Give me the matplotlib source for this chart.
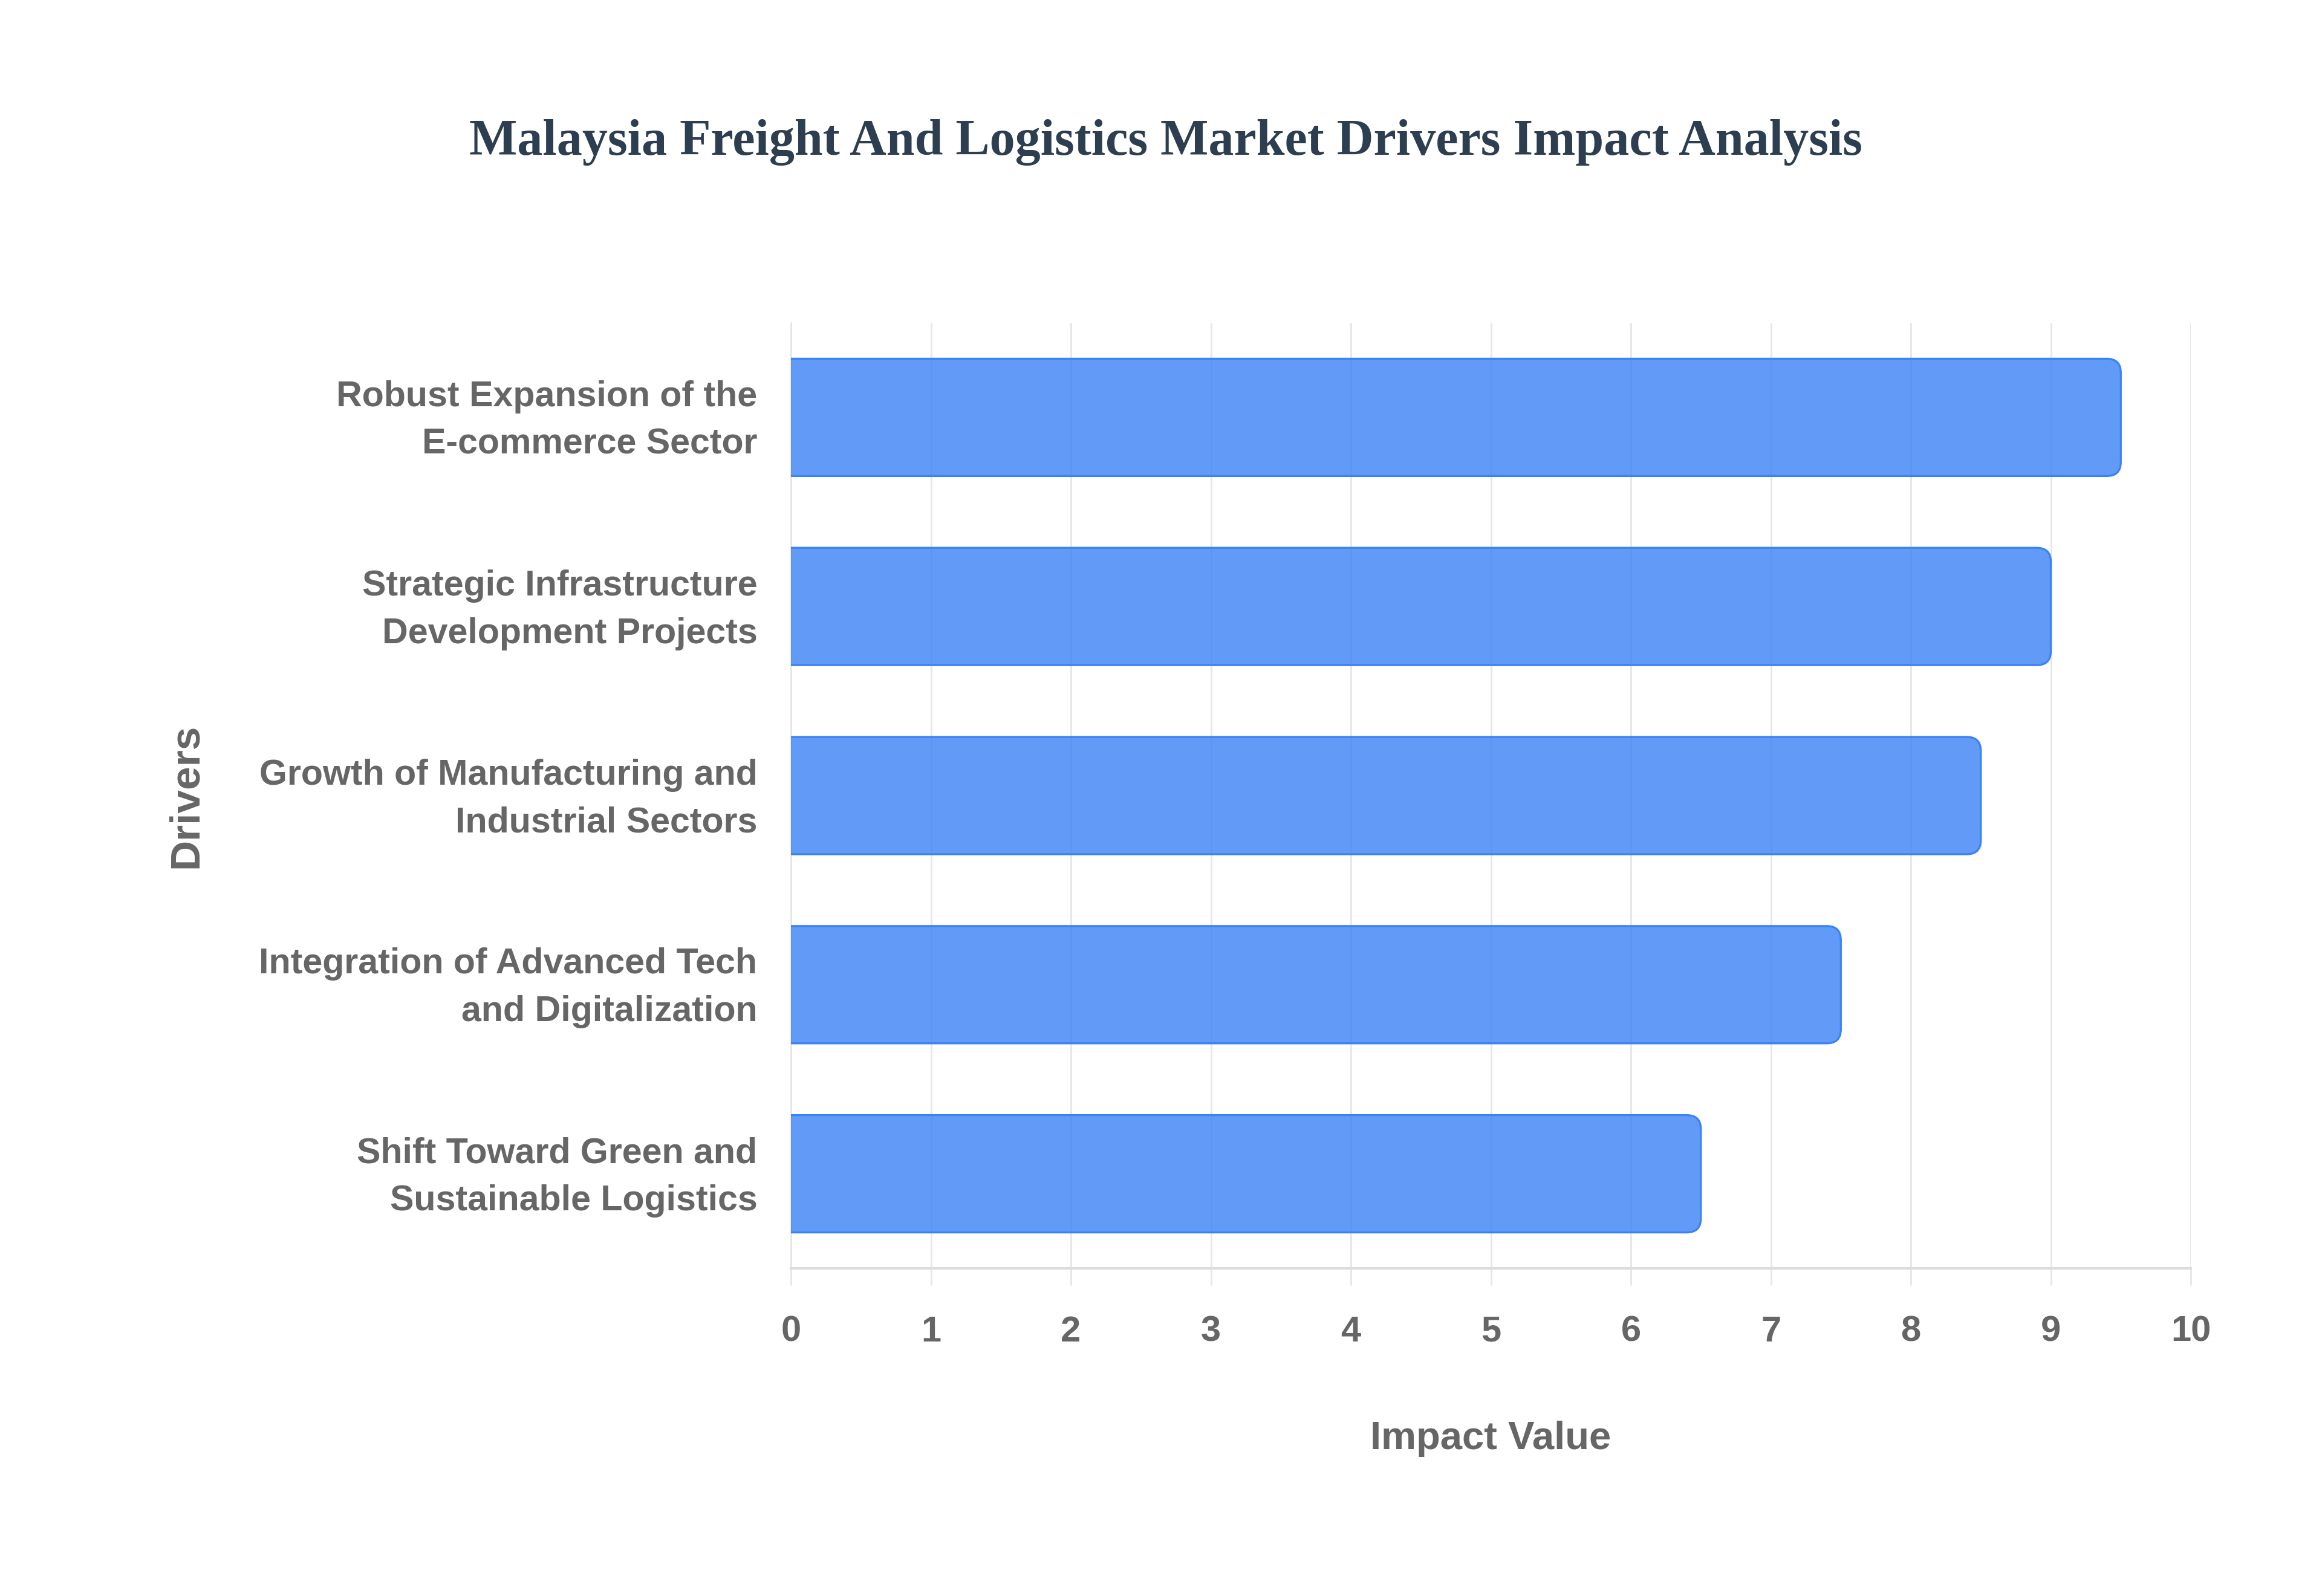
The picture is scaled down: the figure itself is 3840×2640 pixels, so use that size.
import matplotlib
matplotlib.use("Agg")
import matplotlib.pyplot as plt
import matplotlib.transforms as mtransforms
from matplotlib.patches import FancyBboxPatch

# data
drivers = [
    "Robust Expansion of the\nE-commerce Sector",
    "Strategic Infrastructure\nDevelopment Projects",
    "Growth of Manufacturing and\nIndustrial Sectors",
    "Integration of Advanced Tech\nand Digitalization",
    "Shift Toward Green and\nSustainable Logistics",
]
impact = [9.5, 9.0, 8.5, 7.5, 6.5]
x_ticks = [0, 1, 2, 3, 4, 5, 6, 7, 8, 9, 10]

W, H = 3840, 2640
fig = plt.figure(figsize=(W / 200, H / 200), dpi=200)
fig.patch.set_facecolor("white")

# axes box in pixels
left, right, top, bottom = 1308, 3623, 534, 2098
ax = fig.add_axes([left / W, 1 - bottom / H, (right - left) / W, (bottom - top) / H])

sans = ["Liberation Sans", "Arial", "DejaVu Sans"]
grey = "#666666"

y = list(range(len(drivers)))
bars = ax.barh(y, impact, height=0.62)
ax.set_xlim(0, 10)
ax.set_ylim(len(drivers) - 0.5, -0.5)

# rounded bars (right corners rounded, left side clipped at x=0)
asp = ((right - left) / 10) / ((bottom - top) / len(drivers))
r = 0.1
for b in bars:
    x0, y0 = b.get_x(), b.get_y()
    w, h = b.get_width(), b.get_height()
    b.remove()
    p = FancyBboxPatch((x0 - r, y0), w + r, h,
                       boxstyle=f"round,pad=0,rounding_size={r}",
                       mutation_aspect=asp,
                       facecolor=(59 / 255, 130 / 255, 246 / 255, 0.8),
                       edgecolor="#3b82f6", linewidth=1.2, zorder=3)
    ax.add_patch(p)

ax.set_axisbelow(True)
ax.grid(axis="x", color="#e6e6e6", linewidth=1.0)
ax.set_xticks(x_ticks)
ax.set_yticks(y)
ax.set_yticklabels(drivers, fontfamily=sans, fontweight="bold", fontsize=21.3,
                   color=grey, linespacing=1.56)
ax.set_xticklabels([str(t) for t in x_ticks], fontfamily=sans, fontweight="bold",
                   fontsize=21.5, color=grey)
ax.tick_params(axis="y", length=0, pad=20)
ax.tick_params(axis="x", length=10, width=1.0, color="#e6e6e6", pad=18)

# nudge the two-line labels up a little so they sit centred on the bars
shift = mtransforms.ScaledTranslation(0, 4.5 / 72, fig.dpi_scale_trans)
for lab in ax.get_yticklabels():
    lab.set_transform(lab.get_transform() + shift)

for s in ["top", "right"]:
    ax.spines[s].set_visible(False)
ax.spines["left"].set_color("#e6e6e6")
ax.spines["left"].set_linewidth(1.0)
ax.spines["bottom"].set_color("#dcdcdc")
ax.spines["bottom"].set_linewidth(1.5)

fig.text(1928 / W, 1 - 236 / H,
         "Malaysia Freight And Logistics Market Drivers Impact Analysis",
         ha="center", va="center", fontfamily=["Liberation Serif", "DejaVu Serif"],
         fontweight="bold", fontsize=30.3, color="#2c3e50")
fig.text((left + right) / 2 / W, 1 - 2380 / H, "Impact Value", ha="center", va="center",
         fontfamily=sans, fontweight="bold", fontsize=23.5, color=grey)
fig.text(308 / W, 1 - (top + bottom) / 2 / H, "Drivers", ha="center", va="center",
         rotation=90, fontfamily=sans, fontweight="bold", fontsize=25, color=grey)

fig.savefig("out.png", dpi=200, facecolor="white")
